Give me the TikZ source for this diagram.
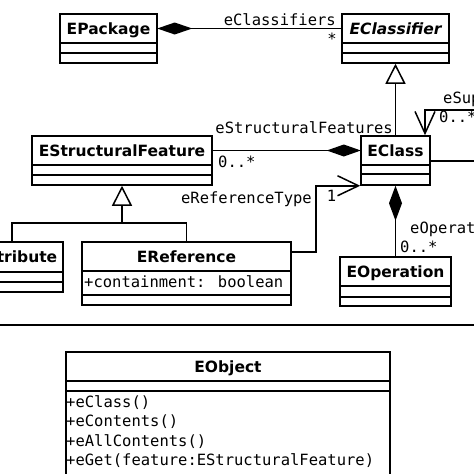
\documentclass[tikz,border=0pt]{standalone}
\usepackage{fontspec}
\setmainfont{DejaVu Sans}
\newfontfamily\monof{DejaVu Sans Mono}
\usetikzlibrary{arrows.meta,fit}
\tikzset{
  boxline/.style={line width=1.5pt},
  conn/.style={line width=1.5pt},
  ttl/.style={font=\bfseries\fontsize{15.5}{18}\selectfont, text height=11.3pt, text depth=0pt, inner sep=0pt},
  lbl/.style={font=\monof\fontsize{15.5}{18}\selectfont, inner sep=0pt},
}
\newcommand\umlbox[8]{%
  \node[fit={(#2,#3) (#4,#5)}, inner sep=0pt, draw, boxline] (#1) {};
  \node[fit={(#2,#3) (#4,#6)}, inner sep=0pt] (#1-h) {};
  \node[ttl] (#1-t) at (#1-h.center) {#8};
  \draw[boxline] (#2,#6) -- (#4,#6);
  \draw[boxline] (#2,#7) -- (#4,#7);
}
\begin{document}
\begin{tikzpicture}[x=1pt,y=-1pt]
\useasboundingbox (0,0) rectangle (474,474);
\clip (0,0) rectangle (474,474);
\fill[white] (0,0) rectangle (474,474);

\umlbox{epackage}{60}{14}{157}{63}{43}{53}{EPackage}
\umlbox{eclassifier}{342}{14}{449}{63}{43}{53}{\itshape EClassifier}
\umlbox{eclass}{361}{136}{430}{185}{165}{174}{EClass}
\umlbox{esf}{32}{136}{212}{185}{165}{175}{EStructuralFeature}
\umlbox{eattr}{-39}{242}{63}{292}{272}{282}{EAttribute}
\umlbox{eref}{82}{242}{291}{305}{271}{295}{EReference}
\umlbox{eop}{340}{257}{451}{306}{286}{297}{EOperation}
\umlbox{eobj}{66}{352}{390}{478}{381}{391}{EObject}

\node[lbl, anchor=base west] (refattr) at (84,287) {+containment: boolean};
\node[lbl, anchor=base west] (m1) at (66,407) {+eClass()};
\node[lbl, anchor=base west] (m2) at (66,426) {+eContents()};
\node[lbl, anchor=base west] (m3) at (66,446) {+eAllContents()};
\node[lbl, anchor=base west] (m4) at (66,465) {+eGet(feature:EStructuralFeature)};

% eClassifiers
\draw[conn, {Diamond[length=35pt 0 0,width=12pt 0 0,fill=black]}-] (epackage-h.east) -- (eclassifier-h.west);
\node[lbl, anchor=base east] (l1) at (336,25) {eClassifiers};
\node[lbl, anchor=base] (l1m) at (332,44) {*};

% generalisation EClass -> EClassifier
\draw[conn, -{Triangle[open,length=20pt 0 0,width=20pt 0 0,fill=white]}] (eclass.north) -- (eclassifier.south);

% eStructuralFeatures
\draw[conn, -{Diamond[length=34pt 0 0,width=12pt 0 0,fill=black]}] (esf-h.east) -- (eclass-h.west);
\node[lbl, anchor=base east] (l2) at (393,133) {eStructuralFeatures};
\node[lbl, anchor=base west] (l2m) at (218,167) {0..*};

% EClass line to the right
\coordinate (eclassR) at (480,161);
\draw[conn] (eclass.east |- eclassR) -- (eclassR);

% eSuperTypes
\coordinate (supR) at (480,110);
\draw[conn, -{Straight Barb[length=22pt 0 0,width=20pt 0 0]}] (supR) -| ([xshift=29.5pt]eclass.north);
\node[lbl, anchor=base west] (l3) at (443,103) {eSuperTypes};
\node[lbl, anchor=base west] (l3m) at (439,122) {0..*};

% generalisation of EStructuralFeature
\coordinate (genj) at (122,223);
\draw[conn] (eattr.north) |- (eref.north |- genj) -- (eref.north);
\draw[conn, -{Triangle[open,length=20pt 0 0,width=20pt 0 0,fill=white]}] (genj) -- (esf.south);

% eReferenceType
\coordinate (rt1) at (316,252);
\draw[conn, -{Straight Barb[length=21pt 0 0,width=20pt 0 0]}] (eref.east |- rt1) -- (rt1) |- (eclass.south west);
\node[lbl, anchor=base east] (l4) at (312,203) {eReferenceType};
\node[lbl, anchor=base] (l4m) at (331.5,201) {1};

% eOperations
\draw[conn, {Diamond[length=35pt 0 0,width=13pt 0 0,fill=black]}-] (eclass.south) -- (eop.north);
\node[lbl, anchor=base west] (l5) at (410,233) {eOperations};
\node[lbl, anchor=base west] (l5m) at (400,252) {0..*};

% separating rule
\draw[line width=2.5pt] (0,325) -- (474,325);
\end{tikzpicture}
\end{document}
